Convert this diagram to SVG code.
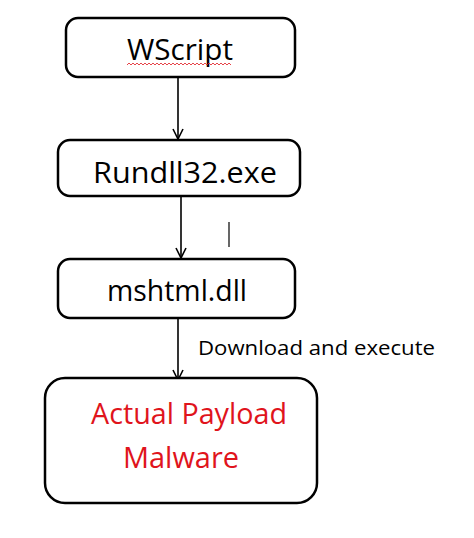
<svg xmlns="http://www.w3.org/2000/svg" width="474" height="538" viewBox="0 0 474 538">
<defs>
<marker id="arr" viewBox="0 0 12 12" refX="11" refY="6" markerWidth="12" markerHeight="12" markerUnits="userSpaceOnUse" orient="auto">
<path d="M1,1 L11,6 L1,11" fill="none" stroke="#000" stroke-width="1.6"/>
</marker>
<style>
.box{fill:#fff;stroke:#000;stroke-width:2.5}
.lbl{font-family:"Open Sans","Liberation Sans",sans-serif;font-size:29px;fill:#000;text-anchor:middle}
.red{fill:#e0141c}
.edge{stroke:#000;stroke-width:1.6;fill:none}
</style>
</defs>
<rect width="474" height="538" fill="#fff"/>
<g id="connectors">
<line class="edge" x1="178" y1="77" x2="178" y2="139" marker-end="url(#arr)"/>
<line class="edge" x1="181" y1="196" x2="181" y2="258" marker-end="url(#arr)"/>
<line class="edge" x1="178" y1="318" x2="178" y2="380" marker-end="url(#arr)"/>
<text x="198" y="355" font-family="'Open Sans','Liberation Sans',sans-serif" font-size="20" textLength="237" lengthAdjust="spacingAndGlyphs">Download and execute</text>
</g>
<line x1="229" y1="222" x2="229" y2="247" stroke="#000" stroke-width="1.2"/>
<g id="wscript">
<rect class="box" x="66" y="18" width="229" height="59" rx="12"/>
<text class="lbl" x="180" y="60" textLength="106" lengthAdjust="spacingAndGlyphs">WScript</text>
<path d="M127,65 l2,-2 l2,2 l2,-2 l2,2 l2,-2 l2,2 l2,-2 l2,2 l2,-2 l2,2 l2,-2 l2,2 l2,-2 l2,2 l2,-2 l2,2 l2,-2 l2,2 l2,-2 l2,2 l2,-2 l2,2 l2,-2 l2,2 l2,-2 l2,2 l2,-2 l2,2 l2,-2 l2,2 l2,-2 l2,2 l2,-2 l2,2 l2,-2 l2,2 l2,-2 l2,2 l2,-2 l2,2 l2,-2 l2,2 l2,-2 l2,2 l2,-2 l2,2 l2,-2 l2,2 l2,-2 l2,2 l2,-2 l2,2" fill="none" stroke="#e0141c" stroke-width="0.8"/>
</g>
<g id="rundll32">
<rect class="box" x="58" y="140" width="242" height="56" rx="12"/>
<text class="lbl" x="185" y="183" textLength="184" lengthAdjust="spacingAndGlyphs">Rundll32.exe</text>
</g>
<g id="mshtml">
<rect class="box" x="58" y="259" width="237" height="59" rx="12"/>
<text class="lbl" x="177" y="301" textLength="140" lengthAdjust="spacingAndGlyphs">mshtml.dll</text>
</g>
<g id="payload">
<rect class="box" x="45" y="378" width="272" height="125" rx="20"/>
<text class="lbl red" x="189" y="424" textLength="196" lengthAdjust="spacingAndGlyphs">Actual Payload</text>
<text class="lbl red" x="181" y="468" textLength="116" lengthAdjust="spacingAndGlyphs">Malware</text>
</g>
</svg>
